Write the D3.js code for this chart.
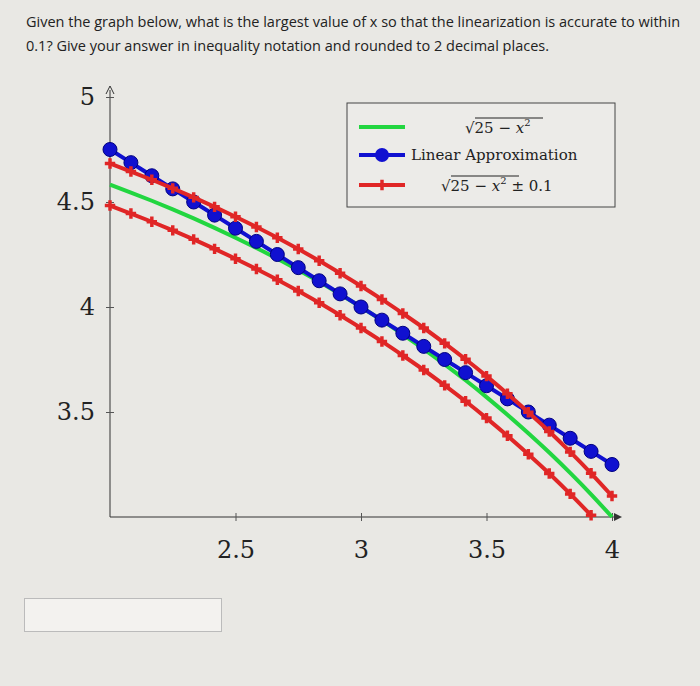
<!DOCTYPE html>
<html><head><meta charset="utf-8">
<script src="https://cdn.jsdelivr.net/npm/d3@7"></script>
<style>
body{margin:0;background:#e9e8e4;font-family:"Open Sans",sans-serif;}
.q{position:absolute;left:26px;top:10px;width:660px;font-size:14.5px;line-height:24px;color:#222;}
.box{position:absolute;left:24px;top:598px;width:196px;height:32px;border:1px solid #bbb;background:#f3f2ef;}
svg{position:absolute;left:0;top:0;}
</style></head><body>
<div class="q">Given the graph below, what is the largest value of x so that the linearization is accurate to within 0.1? Give your answer in inequality notation and rounded to 2 decimal places.</div>
<svg width="700" height="686"></svg>
<div class="box"></div>
<script>
// 25 samples from x=2 to x=4
var xs = d3.range(25).map(k => 2 + k / 12);
var curve = [4.583,4.545,4.506,4.465,4.422,4.377,4.330,4.281,4.230,4.176,4.120,4.061,4.000,3.936,3.869,3.800,3.727,3.651,3.571,3.487,3.399,3.307,3.210,3.108,3.000];
var linear = [4.75,4.6875,4.625,4.5625,4.5,4.4375,4.375,4.3125,4.25,4.1875,4.125,4.0625,4,3.9375,3.875,3.8125,3.75,3.6875,3.625,3.5625,3.5,3.4375,3.375,3.3125,3.25];
var upper = [4.683,4.645,4.606,4.565,4.522,4.477,4.430,4.381,4.330,4.276,4.220,4.161,4.100,4.036,3.969,3.900,3.827,3.751,3.671,3.587,3.499,3.407,3.310,3.208,3.100];
var lower = [4.483,4.445,4.406,4.365,4.322,4.277,4.230,4.181,4.130,4.076,4.020,3.961,3.900,3.836,3.769,3.700,3.627,3.551,3.471,3.387,3.299,3.207,3.110,3.008,2.900];
var xTicks = [2.5, 3, 3.5, 4];
var yTicks = [3.5, 4, 4.5, 5];

var svg = d3.select("svg");
var x = d3.scaleLinear().domain([2, 4]).range([110, 612]);
var y = d3.scaleLinear().domain([3, 5]).range([517, 97]);
var serif = "'DejaVu Serif', serif";

// axes
var gx = svg.append("g").attr("transform", "translate(0,517)")
  .call(d3.axisBottom(x).tickValues(xTicks).tickSize(0).tickFormat(d3.format("")));
gx.select(".domain").attr("stroke", "#333").attr("d", "M110,0H620");
gx.selectAll("text").attr("font-family", serif).attr("font-size", 24).attr("fill", "#222").attr("dy", "1.6em");
gx.selectAll(".tick").append("line").attr("y1", -4).attr("y2", 4).attr("stroke", "#555");
var gy = svg.append("g").attr("transform", "translate(110,0)")
  .call(d3.axisLeft(y).tickValues(yTicks).tickSize(0).tickFormat(d3.format("")));
gy.select(".domain").attr("stroke", "#333").attr("d", "M0,517V90");
gy.selectAll("text").attr("font-family", serif).attr("font-size", 24).attr("fill", "#222").attr("dx", "-0.5em");
gy.selectAll(".tick").append("line").attr("x1", -4).attr("x2", 4).attr("stroke", "#555");
svg.append("path").attr("d", "M106,94L110,86L114,94").attr("fill", "none").attr("stroke", "#333");
svg.append("path").attr("d", "M614,513L622,517L614,521Z").attr("fill", "#333");

var line = d3.line().x((d, i) => x(xs[i])).y(d => y(d)).curve(d3.curveMonotoneX)
  .defined(d => d >= 3);
var red = "#e02626", blue = "#1010d0", green = "#22d640";
var plus = d3.symbol().type(d3.symbolCross).size(60);

function redSeries(vals) {
  svg.append("path").attr("d", line(vals)).attr("fill", "none").attr("stroke", red).attr("stroke-width", 4);
  svg.append("g").selectAll("path").data(vals.map((v, i) => [xs[i], v]).filter(p => p[1] >= 3)).enter().append("path")
    .attr("d", plus).attr("fill", red)
    .attr("transform", p => "translate(" + x(p[0]) + "," + y(p[1]) + ")");
}
redSeries(lower);
svg.append("path").attr("d", line(curve)).attr("fill", "none").attr("stroke", green).attr("stroke-width", 4);
svg.append("path").attr("d", line(linear)).attr("fill", "none").attr("stroke", blue).attr("stroke-width", 4);
svg.append("g").selectAll("circle").data(linear).enter().append("circle")
  .attr("cx", (d, i) => x(xs[i])).attr("cy", d => y(d)).attr("r", 7)
  .attr("fill", blue).attr("stroke", "#000080");
redSeries(upper);

// legend
var lg = svg.append("g").attr("transform", "translate(347,103)");
lg.append("rect").attr("width", 268).attr("height", 104).attr("fill", "#ecebe8").attr("stroke", "#444");
lg.append("line").attr("x1", 12).attr("x2", 58).attr("y1", 24).attr("y2", 24).attr("stroke", green).attr("stroke-width", 4);
lg.append("line").attr("x1", 12).attr("x2", 58).attr("y1", 52).attr("y2", 52).attr("stroke", blue).attr("stroke-width", 4);
lg.append("circle").attr("cx", 35).attr("cy", 52).attr("r", 7).attr("fill", blue);
lg.append("line").attr("x1", 12).attr("x2", 58).attr("y1", 82).attr("y2", 82).attr("stroke", red).attr("stroke-width", 4);
lg.append("path").attr("d", plus).attr("fill", red).attr("transform", "translate(35,82)");

function sqrtLabel(cx, cy, extra) {
  var t = lg.append("text").attr("x", cx).attr("y", cy).attr("font-family", serif).attr("font-size", 15).attr("fill", "#222");
  t.append("tspan").text("√");
  t.append("tspan").text("25 − ");
  t.append("tspan").attr("font-style", "italic").text("x");
  t.append("tspan").attr("font-size", 10).attr("dy", -7).text("2");
  if (extra) t.append("tspan").attr("dy", 7).text(" " + extra);
  var b = t.node().getBBox();
  lg.append("line").attr("x1", cx + 10).attr("x2", cx + 78).attr("y1", b.y + 1).attr("y2", b.y + 1).attr("stroke", "#222");
}
sqrtLabel(118, 30);
lg.append("text").attr("x", 64).attr("y", 57).attr("font-family", serif).attr("font-size", 15).attr("fill", "#222").text("Linear Approximation");
sqrtLabel(94, 88, "± 0.1");
</script>
</body></html>
